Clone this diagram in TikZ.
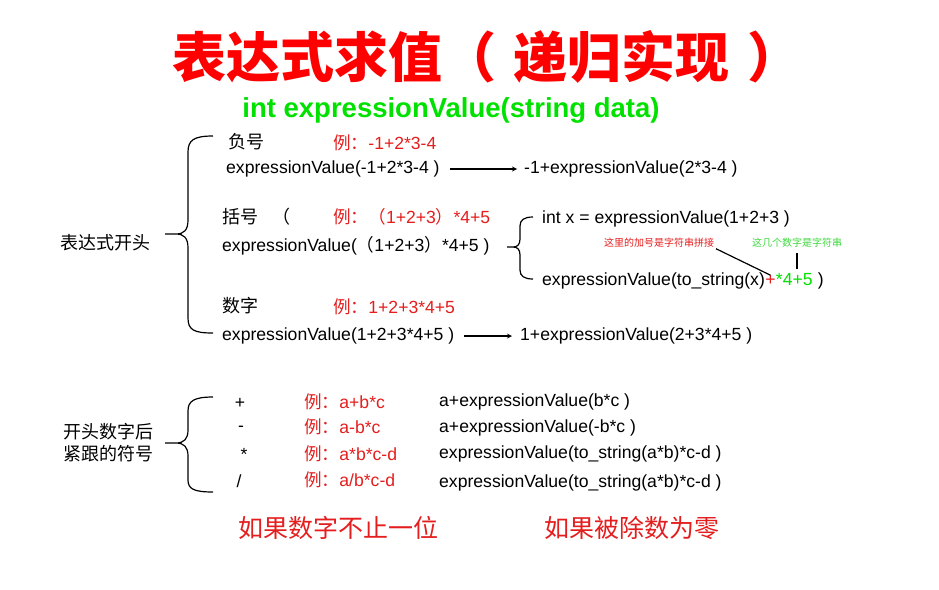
\documentclass[tikz,border=0pt]{standalone}
\usepackage{fontspec}
\setmainfont{Liberation Sans}
\newfontfamily\cjk{Noto Sans CJK SC}
\usetikzlibrary{positioning}
\definecolor{titlered}{RGB}{255,0,0}
\definecolor{egred}{RGB}{228,30,30}
\definecolor{codegreen}{RGB}{0,225,0}
\definecolor{notegreen}{RGB}{60,215,60}
\tikzset{
	code/.style={anchor=west,inner sep=0pt,font=\fontsize{17.6}{20}\selectfont},
	eg/.style={code,text=egred},
	lbl/.style={anchor=west,inner sep=0pt,font=\fontsize{18}{22}\selectfont\cjk},
	note/.style={inner sep=0pt,font=\fontsize{10}{12}\selectfont\cjk},
	brace/.style={line width=1.2pt},
}
\begin{document}
\begin{tikzpicture}[x=1pt,y=-1pt]
			\useasboundingbox(0,0) rectangle (939,589);
			\node (title) at(487,57)[text=titlered,font=\fontsize{54}{60}\selectfont\cjk\bfseries]{表达式求值（\hspace{18pt}递归实现\hspace{18pt}）};
			\node (sig) at(451,110)[text=codegreen,font=\fontsize{27.5}{30}\selectfont\bfseries]{int expressionValue(string data)};
			% start of the expression
			\node (head) at(60,243)[lbl]{表达式开头};
			\draw[brace](213,136) .. controls (194,136) and (188,140) .. (188,152)--(188,220) .. controls (188,230) and (184,234) .. (176,234)--(165,234)--(176,234) .. controls (184,234) and (188,238) .. (188,248)--(188,318) .. controls (188,330) and (194,333) .. (213,333);
			\node (neg) at(228,142)[lbl]{负号};
			\node (negeg) at(333,143)[eg]{{\cjk 例：}-1+2*3-4};
			\node (negcall) at(226,169)[code]{expressionValue(-1+2*3-4 )};
			\node (negres) at(524,169)[code]{-1+expressionValue(2*3-4 )};
			\draw[-stealth,line width=1.2pt,shorten <=10pt,shorten >=7pt](negcall.east)--(negres.west);
			\node (par) at(222,217)[lbl]{括号\hspace{14pt}（};
			\node (pareg) at(333,217)[eg]{{\cjk 例：（}1+2+3{\cjk ）}*4+5};
			\node (parcall) at(222,246)[code]{expressionValue({\cjk （}1+2+3{\cjk ）}*4+5 )};
			\draw[brace](533,217) .. controls (524,217) and (520,220) .. (520,226)--(520,239) .. controls (520,245) and (517,247) .. (513,247)--(507,247)--(513,247) .. controls (517,247) and (520,249) .. (520,255)--(520,270) .. controls (520,276) and (524,279) .. (533,279);
			\node (intx) at(542,219)[code]{int x = expressionValue(1+2+3 )};
			\node (strcall) at(542,281)[code]{expressionValue(to\_string(x)};
			\node (plus)[code,text=egred,base right=0pt of strcall]{+};
			\node (tail)[code,text=codegreen,base right=0pt of plus]{*4+5};
			\node (close)[code,base right=0pt of tail]{\ )};
			\node (plusnote) at(659,243)[note,text=egred]{这里的加号是字符串拼接};
			\node (strnote) at(797,243)[note,text=notegreen]{这几个数字是字符串};
			\draw[line width=1.2pt,shorten <=2pt](plusnote.south east)--(plus.north);
			\draw[line width=1.2pt,shorten <=5pt,shorten >=4pt](strnote.south)--(strnote.south|-tail.north);
			\node (num) at(222,306)[lbl]{数字};
			\node (numeg) at(333,307)[eg]{{\cjk 例：}1+2+3*4+5};
			\node (numcall) at(222,336)[code]{expressionValue(1+2+3*4+5 )};
			\node (numres) at(520,336)[code]{1+expressionValue(2+3*4+5 )};
			\draw[-stealth,line width=1.2pt,shorten <=10pt,shorten >=8pt](numcall.east)--(numres.west);
			% symbol right after the first number
			\node (after) at(108,443)[align=center,inner sep=0pt,font=\fontsize{18}{22}\selectfont\cjk]{开头数字后\\紧跟的符号};
			\draw[brace](213,397) .. controls (194,397) and (188,401) .. (188,411)--(188,430) .. controls (188,439) and (184,443) .. (176,443)--(165,443)--(176,443) .. controls (184,443) and (188,447) .. (188,456)--(188,480) .. controls (188,489) and (194,492) .. (213,492);
			\node (opadd) at(240,403)[code,anchor=center]{+};
			\node (opsub) at(241,429)[code,anchor=center]{-};
			\node (opmul) at(244,454)[code,anchor=center]{*};
			\node (opdiv) at(239,481)[code,anchor=center]{/};
			\node (addeg) at(304,402)[eg]{{\cjk 例：}a+b*c};
			\node (subeg) at(304,427)[eg]{{\cjk 例：}a-b*c};
			\node (muleg) at(304,454)[eg]{{\cjk 例：}a*b*c-d};
			\node (diveg) at(304,480)[eg]{{\cjk 例：}a/b*c-d};
			\node (addres) at(439,402)[code]{a+expressionValue(b*c )};
			\node (subres) at(439,428)[code]{a+expressionValue(-b*c )};
			\node (mulres) at(439,454)[code]{expressionValue(to\_string(a*b)*c-d )};
			\node (divres) at(439,483)[code]{expressionValue(to\_string(a*b)*c-d )};
			\node (multi) at(238,528)[anchor=west,inner sep=0pt,text=egred,font=\fontsize{25}{28}\selectfont\cjk]{如果数字不止一位};
			\node (zero) at(544,528)[anchor=west,inner sep=0pt,text=egred,font=\fontsize{25}{28}\selectfont\cjk]{如果被除数为零};
\end{tikzpicture}
\end{document}
